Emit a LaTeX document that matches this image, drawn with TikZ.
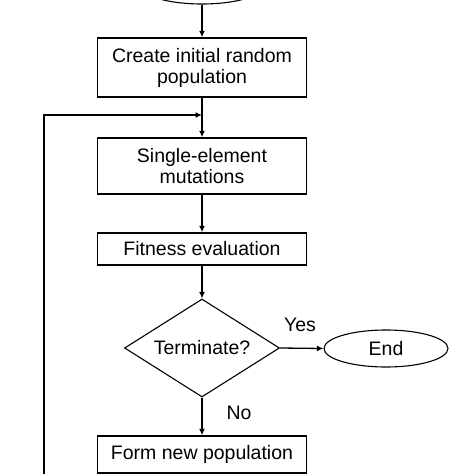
\documentclass[tikz,border=0pt]{standalone}
\usepackage{fontspec}
\setmainfont{Liberation Sans}
\usetikzlibrary{shapes.geometric,arrows.meta}
\begin{document}
\begin{tikzpicture}[x=1pt,y=-1pt,
  every node/.style={font=\fontsize{19.5}{21}\selectfont, text=black},
  procbox/.style={draw, line width=1.4pt, minimum width=209pt, minimum height=#1, inner sep=0pt, align=center},
  term/.style={draw, ellipse, line width=1.1pt, minimum width=124pt, minimum height=37pt, inner sep=0pt},
  decis/.style={draw, diamond, line width=1.1pt, minimum width=155pt, minimum height=98pt, inner sep=0pt, aspect=1.58},
  flow/.style={line width=1.3pt, -{Latex[length=6.5pt,width=6pt]}},
  plain/.style={line width=1.3pt}
]
\useasboundingbox (0,0) rectangle (474,474);
\clip (0,0) rectangle (474,474);
\fill[white] (0,0) rectangle (474,474);

\node[term] (start) at (202,-14.5) {};
\node[procbox=59pt] (create) at (202,67.5) {Create initial random\\population};
\node[procbox=56pt] (mut) at (202,166) {Single-element\\mutations};
\node[procbox=32pt] (fit) at (202,249) {Fitness evaluation};
\node[decis] (term) at (202,348) {Terminate?};
\node[term] (end) at (386,348.5) {End};
\node[procbox=37pt] (form) at (202,454.5) {Form new population};
\node (yes) at (300,325) {Yes};
\node (no) at (239,413) {No};

\coordinate (join) at (202,115);
\coordinate (lt) at (44,115);
\coordinate (lb) at (44,520);

\draw[flow] (start.south) -- (create.north);
\draw[plain] (create.south) -- (join);
\draw[flow] (join) -- (mut.north);
\draw[flow] (mut.south) -- (fit.north);
\draw[flow] (fit.south) -- (term.north);
\draw[flow] (term.east) -- (end.west);
\draw[flow] (term.south) -- (form.north);
\draw[flow] (form.south) |- (lb) -- (lt) -- (join);
\end{tikzpicture}
\end{document}
